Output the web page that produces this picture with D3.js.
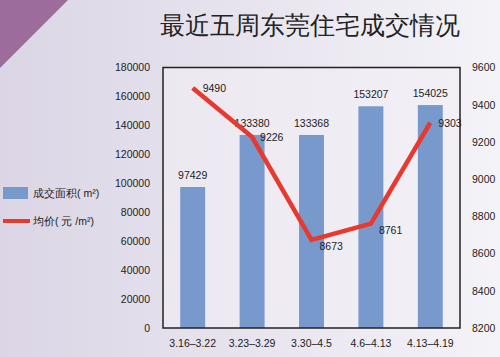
<!DOCTYPE html>
<html><head><meta charset="utf-8">
<script src="https://cdn.jsdelivr.net/npm/d3@7"></script>
<style>body{margin:0;}svg{display:block;}text{font-family:"Liberation Sans",Arial,sans-serif;}</style>
</head><body>
<svg id="c" width="500" height="357"></svg>
<script>
const categories = ["3.16–3.22","3.23–3.29","3.30–4.5","4.6–4.13","4.13–4.19"];
const areaValues = [97429,133380,133368,153207,154025];
const priceValues = [9490,9226,8673,8761,9303];
const leftTicks = [0,20000,40000,60000,80000,100000,120000,140000,160000,180000];
const rightTicks = [8200,8400,8600,8800,9000,9200,9400,9600];
const title = "最近五周东莞住宅成交情况";
const legendLabels = ["成交面积( m²)","均价( 元 /m²)"];

const svg = d3.select("#c");
const W=500,H=357;
const defs = svg.append("defs");
const g = defs.append("linearGradient").attr("id","bg").attr("x1","0").attr("x2","1").attr("y1","0").attr("y2","0");
g.append("stop").attr("offset","0").attr("stop-color","#dbd5e5");
g.append("stop").attr("offset","1").attr("stop-color","#f4f3f8");
svg.append("rect").attr("width",W).attr("height",H).attr("fill","url(#bg)");
svg.append("path").attr("d","M0,0L68,0L0,68Z").attr("fill","#9c6d9c");

const m={l:163,r:460,t:67.5,b:328};
const x = d3.scaleBand().domain(categories).range([m.l,m.r]).paddingInner(0.58).paddingOuter(0.29);
const yL = d3.scaleLinear().domain([0,180000]).range([m.b,m.t]);
const yR = d3.scaleLinear().domain([8200,9600]).range([m.b,m.t]);

svg.append("rect").attr("x",m.l).attr("y",m.t).attr("width",m.r-m.l).attr("height",m.b-m.t).attr("fill","#f1eff5").attr("fill-opacity",0.6);

// bars
svg.selectAll(".bar").data(areaValues).join("rect")
  .attr("x",(d,i)=>x(categories[i])).attr("y",d=>yL(d))
  .attr("width",x.bandwidth()).attr("height",d=>m.b-yL(d)).attr("fill","#7799cc");

svg.append("rect").attr("x",m.l).attr("y",m.t).attr("width",m.r-m.l).attr("height",m.b-m.t)
  .attr("fill","none").attr("stroke","#222").attr("stroke-width",1.5);

// axes
const aL = svg.append("g").attr("transform",`translate(${m.l-13},0)`)
  .call(d3.axisLeft(yL).tickValues(leftTicks).tickSize(0).tickPadding(0).tickFormat(d3.format("d")));
const aR = svg.append("g").attr("transform",`translate(${m.r+12},0)`)
  .call(d3.axisRight(yR).tickValues(rightTicks).tickSize(0).tickPadding(0).tickFormat(d3.format("d")));
const aB = svg.append("g").attr("transform",`translate(0,${m.b+6})`)
  .call(d3.axisBottom(x).tickSize(0).tickPadding(0));
[aL,aR,aB].forEach(a=>{a.select(".domain").remove();a.selectAll("text").attr("font-size",10.5).attr("fill","#222").attr("font-family","Liberation Sans, Arial, sans-serif");});
aB.selectAll("text").attr("dy","1.2em");

// bar labels
svg.selectAll(".bl").data(areaValues).join("text")
  .attr("x",(d,i)=>x(categories[i])+x.bandwidth()/2).attr("y",d=>yL(d)-8)
  .attr("text-anchor","middle").attr("font-size",10.5).attr("fill","#222").text(d=>d);

// line
const cx = (i)=>x(categories[i])+x.bandwidth()/2;
svg.append("path").datum(priceValues)
  .attr("d",d3.line().x((d,i)=>cx(i)).y(d=>yR(d)))
  .attr("fill","none").attr("stroke","#e8392f").attr("stroke-width",4.5).attr("stroke-linejoin","miter");
svg.selectAll(".pl").data(priceValues).join("text")
  .attr("x",(d,i)=>cx(i)+ (i===0?10:8)).attr("y",(d,i)=>yR(d)+ (i===0?4:(i===2||i===3?10:4)))
  .attr("font-size",10.5).attr("fill","#222").text(d=>d);

// legend
svg.append("rect").attr("x",3).attr("y",187).attr("width",25).attr("height",12).attr("fill","#7799cc");
svg.append("line").attr("x1",3).attr("x2",30).attr("y1",221).attr("y2",221).attr("stroke","#e8392f").attr("stroke-width",4);
svg.selectAll(".lg").data(legendLabels).join("text")
  .attr("x",33).attr("y",(d,i)=>i===0?197:225).attr("font-size",10.5).attr("fill","#222")
  .attr("font-family","Noto Sans CJK SC, sans-serif").text(d=>d);

// title
svg.append("text").attr("x",310).attr("y",34).attr("text-anchor","middle")
  .attr("font-family","Noto Sans CJK SC, sans-serif").attr("font-size",24.5).attr("fill","#222").text(title);
</script>
</body></html>
